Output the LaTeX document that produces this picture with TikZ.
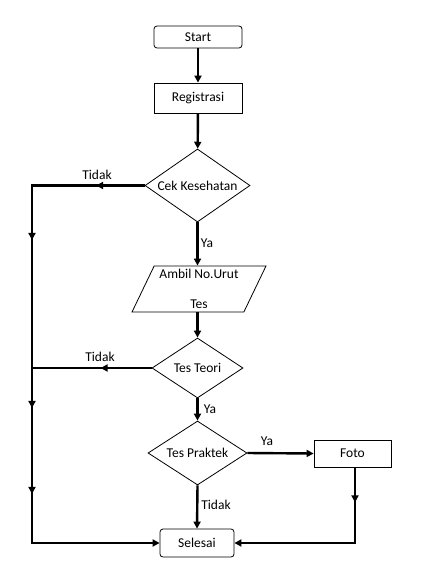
\documentclass[tikz,border=0pt]{standalone}
\usepackage{fontspec}
\setmainfont{Carlito}
\usetikzlibrary{shapes.geometric,arrows.meta,decorations.markings}
\tikzset{ah/.tip={Triangle[length=7pt,width=7pt]}}
\begin{document}
\begin{tikzpicture}[x=1pt,y=-1pt,
  font=\fontsize{13.5}{16.5}\selectfont,
  box/.style={draw, line width=0.8pt, inner sep=0pt, minimum width=88pt, minimum height=30pt},
  term/.style={box, rounded corners=3pt, minimum height=22pt},
  dec/.style={draw, line width=0.8pt, diamond, inner sep=0pt},
  conn/.style={line width=2.4pt},
  tip/.style={-ah},
  marks/.style={postaction={decorate}, decoration={markings,#1}},
  lbl/.style={inner sep=0pt}]
\fill[white] (0,0) rectangle (430,585);
\useasboundingbox (0,0) rectangle (430,585);

\node[term] (st) at (198,37) {Start};
\node[box] (reg) at (198,98) {Registrasi};
\node[dec, minimum width=105pt, minimum height=73pt] (ck) at (197.5,185.5) {\makebox[0pt]{Cek Kesehatan}};
\node[trapezium, draw, line width=0.8pt, trapezium left angle=63.4, trapezium right angle=116.6,
      trapezium stretches=true, minimum width=134pt, minimum height=46pt, inner sep=0pt,
      align=center] (am) at (199,289) {Ambil No.Urut\\[13pt]Tes};
\node[dec, minimum width=91pt, minimum height=60pt] (tt) at (197.5,368) {\makebox[0pt]{Tes Teori}};
\node[dec, minimum width=99pt, minimum height=64pt] (tp) at (197.5,453) {\makebox[0pt]{Tes Praktek}};
\node[box, minimum width=77pt, minimum height=27pt] (foto) at (352.5,453.5) {Foto};
\node[term, minimum width=74pt, minimum height=28pt] (sel) at (197,543) {Selesai};

\coordinate (k1) at (32,185.5);
\coordinate (k2) at (32,368);
\coordinate (k3) at (32,543);
\coordinate (f1) at (355,543);

\draw[conn,tip] (st) -- (reg);
\draw[conn,tip] (reg) -- (ck);
\draw[conn,tip] (ck.south) -- (ck.south |- am.north);
\draw[conn,tip] (am.south -| tt.north) -- (tt.north);
\draw[conn,tip] (tt.south) -- (tp.north);
\draw[conn,tip] (tp.east) -- (foto.west);
\draw[conn,tip] (tp.south) -- (sel.north);
\draw[conn,tip,marks={mark=at position 48.5pt with {\arrow{ah}},
                      mark=at position 167pt with {\arrow{ah}},
                      mark=at position 335pt with {\arrow{ah}},
                      mark=at position 421pt with {\arrow{ah}}}]
  (ck.west) -- (k1) -- (k3) -- (sel.west);
\draw[conn,marks={mark=at position 51pt with {\arrow{ah}}}] (tt.west) -- (k2);
\draw[conn,tip,marks={mark=at position 35pt with {\arrow{ah}}}]
  (f1 |- foto.south) -- (f1) -- (sel.east);

\node[lbl] (l1) at (97,175) {Tidak};
\node[lbl] (l2) at (207,243) {Ya};
\node[lbl] (l3) at (100,357) {Tidak};
\node[lbl] (l4) at (210,409) {Ya};
\node[lbl] (l5) at (267,441) {Ya};
\node[lbl] (l6) at (216,505) {Tidak};
\end{tikzpicture}
\end{document}
